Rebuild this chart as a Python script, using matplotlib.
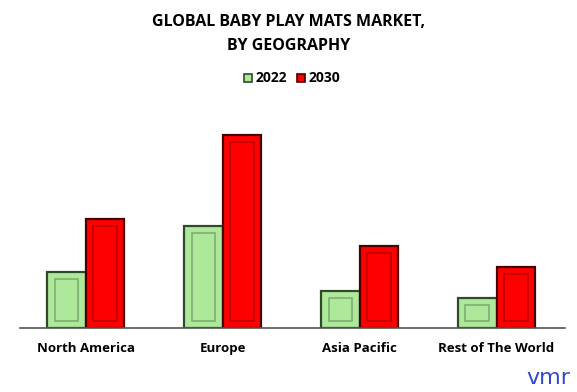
import numpy as np
import matplotlib.pyplot as plt

# chart data (relative bar heights)
regions = ["North America", "Europe", "Asia Pacific", "Rest of The World"]
years = ["2022", "2030"]
values_2022 = [56, 102, 37, 30]
values_2030 = [109, 193, 82, 61]

face = {"2022": "#aee89a", "2030": "#ff0000"}
edge = {"2022": "#2f4a28", "2030": "#4a0000"}
inner = {"2022": "#7fae72", "2030": "#c00000"}

fig = plt.figure(figsize=(5.77, 3.92), dpi=100)
ax = fig.add_axes([20 / 577, 64 / 392, 545 / 577, 208 / 392])

x = np.arange(len(regions))
w = 0.28
for vals, yr, off in [(values_2022, "2022", -w / 2), (values_2030, "2030", w / 2)]:
    vals = np.array(vals, dtype=float)
    ax.bar(x + off, vals, width=w, color=face[yr], edgecolor=edge[yr],
           linewidth=1.6, zorder=2)
    # inner bevel panel
    ax.bar(x + off, vals - 14, bottom=7, width=w * 0.62, color=face[yr],
           edgecolor=inner[yr], linewidth=1.2, zorder=3)

ax.set_xlim(-0.48, 3.5)
ax.set_ylim(0, 208)
for s in ["top", "right", "left"]:
    ax.spines[s].set_visible(False)
ax.spines["bottom"].set_color("#555555")
ax.spines["bottom"].set_linewidth(1.2)
ax.set_yticks([])
ax.set_xticks(x)
ax.set_xticklabels(regions, fontsize=9.5, fontweight="bold", family="Open Sans")
ax.tick_params(axis="x", length=0, pad=17)
for lab in ax.get_xticklabels():
    lab.set_verticalalignment("baseline")

fig.text(0.5, 1 - 22 / 392, "GLOBAL BABY PLAY MATS MARKET,", ha="center", va="center",
         fontsize=11.5, fontweight="bold", family="Open Sans")
fig.text(0.5, 1 - 46 / 392, "BY GEOGRAPHY", ha="center", va="center",
         fontsize=11.5, fontweight="bold", family="Open Sans")

# legend
for lx, yr in [(244, "2022"), (297, "2030")]:
    fig.patches.append(plt.Rectangle((lx / 577, 1 - 82 / 392), 8 / 577, 8 / 392,
                                     transform=fig.transFigure, facecolor=face[yr],
                                     edgecolor=edge[yr], linewidth=1.2))
    fig.text((lx + 12) / 577, 1 - 78 / 392, yr, ha="left", va="center",
             fontsize=10, fontweight="bold", family="Open Sans")

fig.text(548 / 577, 1 - 378 / 392, "vmr", ha="center", va="center", fontsize=16,
         color="#3346d3", family="DejaVu Sans")

fig.savefig("out.png", dpi=100)
